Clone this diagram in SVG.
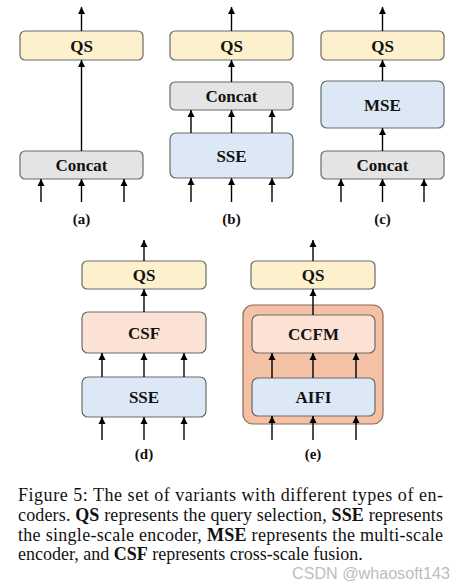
<svg xmlns="http://www.w3.org/2000/svg" width="465" height="586" viewBox="0 0 465 586">
<defs>
<marker id="ah" viewBox="0 0 10 10" refX="10" refY="5" markerWidth="7" markerHeight="8" markerUnits="userSpaceOnUse" orient="auto">
<path d="M0,0 L10,5 L0,10 z" fill="#000"/>
</marker>
</defs>
<style>
.box{stroke:#6a6a6a;stroke-width:1.2}
.qs{fill:#fdf0cd}
.cat{fill:#e4e4e4}
.enc{fill:#dce8f5}
.csf{fill:#fce2d5}
.outer{fill:#f5c1a4;stroke:#8c6b5c;stroke-width:1.2}
.lbl{font-family:'Liberation Serif','Times New Roman',serif;font-weight:bold;font-size:17px;fill:#111;text-anchor:middle}
.sub{font-family:'Liberation Serif','Times New Roman',serif;font-weight:bold;font-size:15px;fill:#111;text-anchor:middle}
.arr line{stroke:#000;stroke-width:1.4;marker-end:url(#ah)}
.cap{font-family:'Liberation Serif','Times New Roman',serif;font-size:18px;fill:#111}
.b{font-weight:bold}
.wm{font-family:'Liberation Sans',Arial,sans-serif;font-size:16px;fill:#bdbdbd}
</style>
<rect width="465" height="586" fill="#fff"/>

<!-- panel a -->
<g id="a-qs"><rect class="box qs" x="20" y="31" width="123" height="29" rx="5"/><text class="lbl" x="81.5" y="51.5">QS</text></g>
<g id="a-concat"><rect class="box cat" x="20" y="151" width="123" height="28" rx="5"/><text class="lbl" x="81.5" y="171">Concat</text></g>
<text class="sub" x="81.5" y="224">(a)</text>

<!-- panel b -->
<g id="b-qs"><rect class="box qs" x="170" y="31" width="123" height="29" rx="5"/><text class="lbl" x="231.5" y="51.5">QS</text></g>
<g id="b-concat"><rect class="box cat" x="170" y="82" width="123" height="28" rx="5"/><text class="lbl" x="231.5" y="102">Concat</text></g>
<g id="b-sse"><rect class="box enc" x="170" y="133" width="123" height="45" rx="6"/><text class="lbl" x="231.5" y="161.5">SSE</text></g>
<text class="sub" x="231.5" y="224">(b)</text>

<!-- panel c -->
<g id="c-qs"><rect class="box qs" x="321" y="31" width="123" height="29" rx="5"/><text class="lbl" x="382.5" y="51.5">QS</text></g>
<g id="c-mse"><rect class="box enc" x="321" y="81" width="123" height="47" rx="6"/><text class="lbl" x="382.5" y="110.5">MSE</text></g>
<g id="c-concat"><rect class="box cat" x="321" y="151" width="123" height="28" rx="5"/><text class="lbl" x="382.5" y="171">Concat</text></g>
<text class="sub" x="382.5" y="224">(c)</text>

<!-- panel d -->
<g id="d-qs"><rect class="box qs" x="82" y="261" width="124" height="28" rx="5"/><text class="lbl" x="144" y="281">QS</text></g>
<g id="d-csf"><rect class="box csf" x="82" y="312" width="124" height="41" rx="6"/><text class="lbl" x="144" y="338.5">CSF</text></g>
<g id="d-sse"><rect class="box enc" x="82" y="377" width="124" height="40" rx="6"/><text class="lbl" x="144" y="403">SSE</text></g>
<text class="sub" x="144" y="459">(d)</text>

<!-- panel e -->
<g id="e-qs"><rect class="box qs" x="251" y="261" width="124" height="28" rx="5"/><text class="lbl" x="313" y="281">QS</text></g>
<g id="e-encoder"><rect class="outer" x="243" y="305" width="140" height="119" rx="10"/></g>
<g id="e-ccfm"><rect class="box csf" x="252" y="315" width="123" height="38" rx="6"/><text class="lbl" x="313.5" y="340">CCFM</text></g>
<g id="e-aifi"><rect class="box enc" x="252" y="378" width="123" height="38" rx="6"/><text class="lbl" x="313.5" y="403">AIFI</text></g>
<text class="sub" x="313" y="459">(e)</text>

<g id="connectors" class="arr">
<!-- a -->
<line x1="81.5" y1="31" x2="81.5" y2="7"/>
<line x1="81.5" y1="151" x2="81.5" y2="60"/>
<line x1="41" y1="202" x2="41" y2="179"/>
<line x1="81.5" y1="202" x2="81.5" y2="179"/>
<line x1="124" y1="202" x2="124" y2="179"/>
<!-- b -->
<line x1="231.5" y1="31" x2="231.5" y2="7"/>
<line x1="231.5" y1="82" x2="231.5" y2="60"/>
<line x1="191" y1="133" x2="191" y2="110"/>
<line x1="231.5" y1="133" x2="231.5" y2="110"/>
<line x1="272" y1="133" x2="272" y2="110"/>
<line x1="191" y1="202" x2="191" y2="178"/>
<line x1="231.5" y1="202" x2="231.5" y2="178"/>
<line x1="272" y1="202" x2="272" y2="178"/>
<!-- c -->
<line x1="382.5" y1="31" x2="382.5" y2="7"/>
<line x1="382.5" y1="81" x2="382.5" y2="60"/>
<line x1="382.5" y1="151" x2="382.5" y2="128"/>
<line x1="341" y1="202" x2="341" y2="179"/>
<line x1="382.5" y1="202" x2="382.5" y2="179"/>
<line x1="424" y1="202" x2="424" y2="179"/>
<!-- d -->
<line x1="144" y1="261" x2="144" y2="240"/>
<line x1="144" y1="312" x2="144" y2="289"/>
<line x1="102" y1="377" x2="102" y2="353"/>
<line x1="144" y1="377" x2="144" y2="353"/>
<line x1="184" y1="377" x2="184" y2="353"/>
<line x1="102" y1="440" x2="102" y2="417"/>
<line x1="144" y1="440" x2="144" y2="417"/>
<line x1="184" y1="440" x2="184" y2="417"/>
<!-- e -->
<line x1="313" y1="261" x2="313" y2="240"/>
<line x1="313" y1="315" x2="313" y2="289"/>
<line x1="272" y1="378" x2="272" y2="353"/>
<line x1="313" y1="378" x2="313" y2="353"/>
<line x1="356" y1="378" x2="356" y2="353"/>
<line x1="272" y1="440" x2="272" y2="416"/>
<line x1="313" y1="440" x2="313" y2="416"/>
<line x1="356" y1="440" x2="356" y2="416"/>
</g>

<g id="caption">
<text class="cap" x="18" y="501" textLength="425" lengthAdjust="spacing">Figure 5:  The set of variants with different types of en-</text>
<text class="cap" x="18" y="521" textLength="425" lengthAdjust="spacing">coders.  <tspan class="b">QS</tspan> represents the query selection, <tspan class="b">SSE</tspan> represents</text>
<text class="cap" x="18" y="541" textLength="425" lengthAdjust="spacing">the single-scale encoder, <tspan class="b">MSE</tspan> represents the multi-scale</text>
<text class="cap" x="18" y="560">encoder, and <tspan class="b">CSF</tspan> represents cross-scale fusion.</text>
</g>
<text class="wm" x="292" y="579" textLength="158" lengthAdjust="spacingAndGlyphs">CSDN @whaosoft143</text>
</svg>
